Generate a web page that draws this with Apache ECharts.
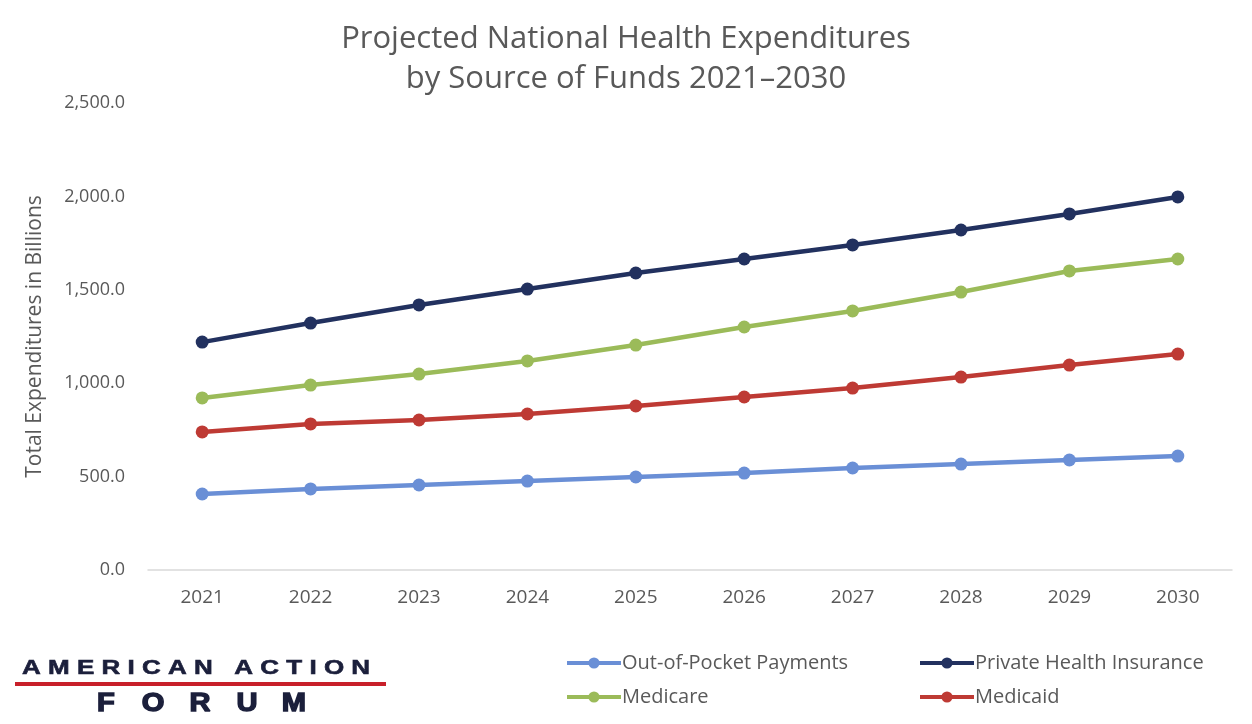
<!DOCTYPE html>
<html>
<head>
<meta charset="utf-8">
<script src="https://cdn.jsdelivr.net/npm/echarts@6/dist/echarts.min.js"></script>
<style>
  html, body { margin: 0; padding: 0; background: #fff; }
  #chart { width: 1252px; height: 724px; }
</style>
</head>
<body>
<div id="chart"></div>
<script>
// data
var years = ['2021', '2022', '2023', '2024', '2025', '2026', '2027', '2028', '2029', '2030'];
var outOfPocket = [407, 434, 455, 476, 498, 519, 546, 567, 589, 610];
var privateIns = [1220, 1322, 1419, 1504, 1590, 1665, 1740, 1820, 1906, 1997];
var medicare = [921, 990, 1049, 1119, 1204, 1301, 1387, 1488, 1601, 1665];
var medicaid = [739, 782, 803, 835, 878, 926, 974, 1033, 1097, 1156];

var names = ['Out-of-Pocket Payments', 'Private Health Insurance', 'Medicare', 'Medicaid'];
var colors = ['#6a8fd6', '#22315f', '#9bbb59', '#be3a34'];

var FONT = '"Open Sans", sans-serif';
var GREY = '#595959';
var LOGO_FONT = '"Liberation Sans", Arial, sans-serif';
var NAVY = '#1b1f3b';

var myChart = echarts.init(document.getElementById('chart'));

function mkSeries(i, data) {
  return {
    name: names[i],
    type: 'line',
    data: data,
    symbol: 'circle',
    symbolSize: 13,
    lineStyle: { width: 4.5, color: colors[i] },
    itemStyle: { color: colors[i] },
    z: 10 - i
  };
}

function mkLegend(name, left, top) {
  return {
    data: [name],
    left: left,
    top: top,
    itemWidth: 54,
    itemHeight: 14,
    itemGap: 4,
    lineStyle: { width: 4 },
    textStyle: { fontFamily: FONT, fontSize: 20, color: GREY, padding: [0, 0, 0, -4] }
  };
}

// logo
var logo = [
  {
    type: 'text', x: 22, y: 668, scaleX: 1.3,
    style: {
      text: 'A M E R I C A N   A C T I O N', verticalAlign: 'middle',
      fontFamily: LOGO_FONT, fontWeight: 'bold', fontSize: 20,
      fill: NAVY, stroke: NAVY, lineWidth: 0.6
    }
  },
  {
    type: 'rect', shape: { x: 15, y: 682, width: 371, height: 4 },
    style: { fill: '#c8202a' }
  }
];
var forum = ['F', 'O', 'R', 'U', 'M'];
forum.forEach(function (ch, i) {
  logo.push({
    type: 'text', x: 106 + i * 47, y: 704, scaleX: 1.12,
    style: {
      text: ch, align: 'center', verticalAlign: 'middle',
      fontFamily: LOGO_FONT, fontWeight: 900, fontSize: 26,
      fill: NAVY, stroke: NAVY, lineWidth: 1.4
    }
  });
});

var option = {
  backgroundColor: '#fff',
  animation: false,
  title: {
    text: 'Projected National Health Expenditures\nby Source of Funds 2021\u20132030',
    left: 'center',
    top: 14,
    textStyle: { fontFamily: FONT, fontSize: 31, fontWeight: 'normal', color: GREY, lineHeight: 40 }
  },
  legend: [
    mkLegend(names[0], 560, 648),
    mkLegend(names[1], 913, 648),
    mkLegend(names[2], 560, 682),
    mkLegend(names[3], 913, 682)
  ],
  grid: { left: 148, right: 20, top: 103, bottom: 154 },
  xAxis: {
    type: 'category',
    data: years,
    boundaryGap: true,
    axisLine: { lineStyle: { color: '#d9d9d9', width: 1.5 } },
    axisTick: { show: false },
    axisLabel: { fontFamily: FONT, fontSize: 19, color: GREY, margin: 18 }
  },
  yAxis: {
    type: 'value',
    min: 0,
    max: 2500,
    interval: 500,
    name: 'Total Expenditures in Billions',
    nameLocation: 'middle',
    nameGap: 102,
    nameTextStyle: { fontFamily: FONT, fontSize: 21, color: GREY },
    axisLine: { show: false },
    axisTick: { show: false },
    splitLine: { show: false },
    axisLabel: {
      fontFamily: FONT, fontSize: 18, color: GREY, margin: 23,
      formatter: function (v) {
        return v.toLocaleString('en-US', { minimumFractionDigits: 1, maximumFractionDigits: 1 });
      }
    }
  },
  series: [
    mkSeries(0, outOfPocket),
    mkSeries(1, privateIns),
    mkSeries(2, medicare),
    mkSeries(3, medicaid)
  ],
  graphic: logo
};

myChart.setOption(option);
</script>
</body>
</html>
